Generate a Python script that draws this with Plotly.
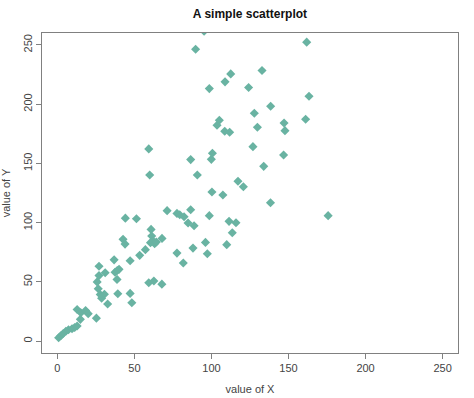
import plotly.graph_objects as go

x_vals = [0.8, 2.2, 3.8, 5.5, 7.2, 9.5, 11.2, 12.8, 12.8, 15.2, 18.3, 20.0, 14.9, 25.3,
          27.0, 27.0, 25.8, 26.5, 27.8, 28.7, 30.5, 32.6, 31.0, 36.8, 37.4, 38.8, 40.0,
          38.7, 39.2, 47.2, 48.3, 47.2, 53.4, 57.1, 59.3, 62.6, 67.8, 44.1, 51.3, 42.6,
          43.9, 60.8, 61.2, 62.1, 60.4, 63.1, 64.2, 67.9, 71.2, 77.6, 79.4, 82.2, 86.5,
          84.8, 88.7, 98.6, 111.4, 115.9, 113.5, 109.9, 96.1, 97.3, 77.6, 81.7, 88.0,
          100.3, 107.4, 138.3, 175.7, 120.7, 117.2, 133.9, 59.9, 90.8, 86.5, 99.9, 100.6,
          146.8, 59.3, 126.9, 108.6, 111.8, 129.8, 147.7, 103.6, 105.1, 147.1, 161.1,
          127.8, 138.4, 163.3, 98.6, 124.1, 108.8, 112.5, 132.8, 89.7, 161.8, 95.2]
y_vals = [2.9, 4.5, 6.5, 8.4, 9.6, 10.4, 11.5, 12.8, 26.7, 23.9, 25.8, 23.2, 18.4, 19.4,
          63.2, 55.3, 50.0, 44.2, 39.3, 36.2, 39.6, 31.4, 57.7, 68.6, 58.1, 59.6, 60.6,
          52.1, 40.0, 40.3, 32.4, 67.8, 72.4, 77.2, 49.3, 50.7, 48.1, 103.8, 103.3, 85.9,
          81.9, 94.3, 88.7, 84.5, 83.1, 82.2, 83.6, 86.7, 110.1, 107.8, 106.7, 105.0, 110.9,
          99.7, 97.4, 105.9, 101.1, 99.9, 91.5, 81.4, 83.3, 73.8, 74.3, 66.0, 78.5,
          125.8, 123.3, 116.8, 105.9, 130.3, 134.9, 147.5, 140.2, 140.2, 153.2, 153.4, 158.5,
          157.1, 162.2, 164.1, 177.1, 176.2, 180.5, 177.6, 182.2, 186.4, 184.1, 187.2,
          192.3, 198.2, 206.6, 213.1, 214.0, 218.8, 225.5, 228.3, 246.3, 252.3, 261.5]

tick_vals = [0, 50, 100, 150, 200, 250]
tick_text = ["0", "50", "100", "150", "200", "250"]

FONT = "Liberation Sans, Arial, sans-serif"

fig = go.Figure(go.Scatter(
    x=x_vals, y=y_vals, mode="markers",
    marker=dict(symbol="diamond", size=7, color="#69b3a2", line=dict(width=0)),
    cliponaxis=True,
))

axis_common = dict(
    tickvals=tick_vals, ticktext=tick_text,
    showgrid=False, zeroline=False, automargin=False,
    showline=True, linecolor="#808080", linewidth=1, mirror=True,
    ticks="outside", ticklen=5, tickcolor="#808080", tickwidth=1,
    tickfont=dict(family=FONT, size=11, color="#444444"),
)

fig.update_layout(
    width=474, height=398,
    margin=dict(l=42, r=16, t=33, b=45),
    paper_bgcolor="white", plot_bgcolor="white",
    showlegend=False,
    font=dict(family=FONT, color="#222222"),
    title=dict(text="<b>A simple scatterplot</b>", x=250/474, xanchor="center",
               y=1 - 14/398, yanchor="middle",
               font=dict(family=FONT, size=12, color="#111111")),
    xaxis=dict(range=[-10, 260], **axis_common,
               title=dict(text="value of X", standoff=12,
                          font=dict(family=FONT, size=11, color="#444444"))),
    yaxis=dict(range=[-10, 260], tickangle=-90, **axis_common,
               title=dict(text="value of Y", standoff=10,
                          font=dict(family=FONT, size=11, color="#444444"))),
)

fig.write_html(
    "out.html",
    config={"displayModeBar": False},
    post_script="document.body.style.margin='0';document.body.style.overflow='hidden';",
)
